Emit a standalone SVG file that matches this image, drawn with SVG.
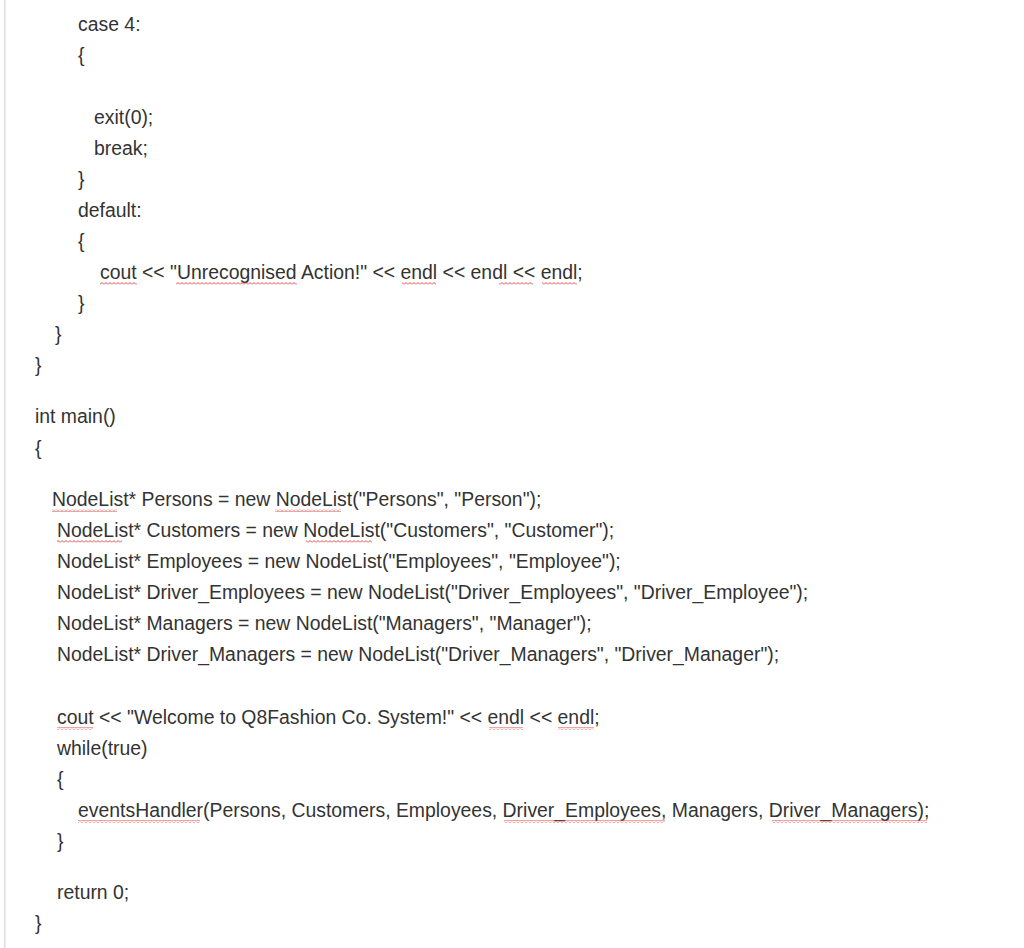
<svg xmlns="http://www.w3.org/2000/svg" width="1024" height="948" viewBox="0 0 1024 948">
<defs>
<pattern id="w" width="4" height="3" patternUnits="userSpaceOnUse"><path d="M0,2.5 L2,0.5 L4,2.5" fill="none" stroke="#d33" stroke-width="0.9"/></pattern>
<style>text{font-family:"Liberation Sans",Arial,sans-serif;font-size:19.4px;fill:#333}.s{fill:url(#w)}</style>
</defs>
<rect width="1024" height="948" fill="#fff"/>
<rect x="4" y="0" width="1.5" height="948" fill="#ddd"/>
<g id="code">
<text x="78" y="31">case 4:</text>
<text x="78" y="62">{</text>
<text x="94" y="124">exit(0);</text>
<text x="94" y="155">break;</text>
<text x="78" y="186">}</text>
<text x="78" y="217">default:</text>
<text x="78" y="248">{</text>
<text x="100" y="279">cout &lt;&lt; "Unrecognised Action!" &lt;&lt; endl &lt;&lt; endl &lt;&lt; endl;</text>
<text x="78" y="310">}</text>
<text x="55" y="341">}</text>
<text x="35" y="372">}</text>
<text x="35" y="423">int main()</text>
<text x="35" y="455">{</text>
<text x="52" y="506">NodeList* Persons = new NodeList("Persons", "Person");</text>
<text x="57" y="537">NodeList* Customers = new NodeList("Customers", "Customer");</text>
<text x="57" y="568">NodeList* Employees = new NodeList("Employees", "Employee");</text>
<text x="57" y="599">NodeList* Driver_Employees = new NodeList("Driver_Employees", "Driver_Employee");</text>
<text x="57" y="630">NodeList* Managers = new NodeList("Managers", "Manager");</text>
<text x="57" y="661">NodeList* Driver_Managers = new NodeList("Driver_Managers", "Driver_Manager");</text>
<text x="57" y="724">cout &lt;&lt; "Welcome to Q8Fashion Co. System!" &lt;&lt; endl &lt;&lt; endl;</text>
<text x="57" y="755">while(true)</text>
<text x="57" y="786">{</text>
<text x="78" y="817">eventsHandler(Persons, Customers, Employees, Driver_Employees, Managers, Driver_Managers);</text>
<text x="57" y="848">}</text>
<text x="57" y="899">return 0;</text>
<text x="35" y="930">}</text>
</g>
<g id="squiggles">
<rect class="s" x="100" y="282" width="37" height="3"/>
<rect class="s" x="176" y="282" width="121" height="3"/>
<rect class="s" x="402" y="282" width="34" height="3"/>
<rect class="s" x="499" y="282" width="34" height="3"/>
<rect class="s" x="542" y="282" width="35" height="3"/>
<rect class="s" x="52" y="509" width="65" height="3"/>
<rect class="s" x="275" y="509" width="66" height="3"/>
<rect class="s" x="57" y="540" width="65" height="3"/>
<rect class="s" x="306" y="540" width="66" height="3"/>
<rect class="s" x="57" y="727" width="36" height="3"/>
<rect class="s" x="489" y="727" width="34" height="3"/>
<rect class="s" x="558" y="727" width="36" height="3"/>
<rect class="s" x="78" y="820" width="122" height="3"/>
<rect class="s" x="504" y="820" width="161" height="3"/>
<rect class="s" x="772" y="820" width="155" height="3"/>
</g>
</svg>
